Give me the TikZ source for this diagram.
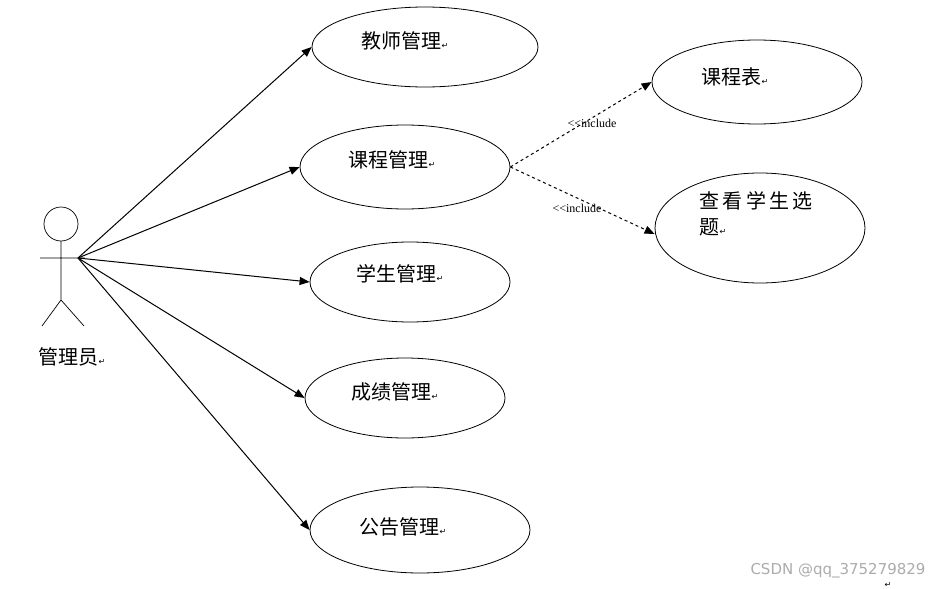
\documentclass[tikz,border=0pt]{standalone}
\usepackage{fontspec}
\newfontfamily\cjk{Noto Sans CJK SC}
\newfontfamily\dv{DejaVu Sans}
\newfontfamily\tms{Liberation Serif}
\newcommand\mkr{{\dv\fontsize{8}{9}\selectfont ↵}}
\usetikzlibrary{shapes.geometric,arrows.meta}
\begin{document}
\begin{tikzpicture}[x=1pt,y=-1pt,
  uc/.style={ellipse,draw,line width=0.8pt,inner sep=0pt},
  txt/.style={font=\cjk\fontsize{20}{26}\selectfont,anchor=center},
  ar/.style={-{Triangle[length=10pt,width=8pt]},line width=1pt},
  inc/.style={-{Triangle[length=10pt,width=8pt]},dashed,line width=1pt},
  il/.style={font=\tms\fontsize{12}{13}\selectfont}]
\useasboundingbox (0,0) rectangle (948,589);
\fill[white] (0,0) rectangle (948,589);
% actor
\draw[line width=0.7pt] (61,224) circle (17);
\draw[line width=0.7pt] (61,241) -- (61,300) (40,258) -- (85,258) (42,326) -- (61,300) -- (84,326);
\coordinate (act) at (78,258);
\node[txt] (actl) at (72,357) {管理员\mkr};
% use cases
\node[uc,minimum width=226,minimum height=80] (t) at (425,47) {};
\node[txt] at (405,41) {教师管理\mkr};
\node[uc,minimum width=210,minimum height=84] (c) at (405,167) {};
\node[txt] at (392,160) {课程管理\mkr};
\node[uc,minimum width=200,minimum height=80] (s) at (410,282) {};
\node[txt] at (400,274) {学生管理\mkr};
\node[uc,minimum width=200,minimum height=80] (g) at (405,398) {};
\node[txt] at (395,392) {成绩管理\mkr};
\node[uc,minimum width=220,minimum height=86] (n) at (420,530) {};
\node[txt] at (403,527) {公告管理\mkr};
\node[uc,minimum width=210,minimum height=84] (k) at (757,82) {};
\node[txt] at (735,77) {课程表\mkr};
\node[uc,minimum width=210,minimum height=110] (x) at (760,228) {};
\node[txt,align=left] at (765,214) {查\,看\,学\,生\,选\\题\mkr\hspace*{5.2em}};
% connectors
\draw[ar] (act) -- (t.west);
\draw[ar] (act) -- (c.west);
\draw[ar] (act) -- (s.west);
\draw[ar] (act) -- (g.west);
\draw[ar] (act) -- (n.west);
\draw[inc] (c.east) -- (k.west);
\draw[inc] (c.east) -- ([yshift=-6pt]x.west);
\node[il] (l1) at (592,123) {<{}<include};
\node[il] (l2) at (577,208) {<{}<include};
\node[font=\dv\fontsize{15}{17}\selectfont,text=gray!65] (wm) at (838,571) {CSDN @qq\_375279829};
\node (wm2) at (888,585) {\mkr};
\end{tikzpicture}
\end{document}
